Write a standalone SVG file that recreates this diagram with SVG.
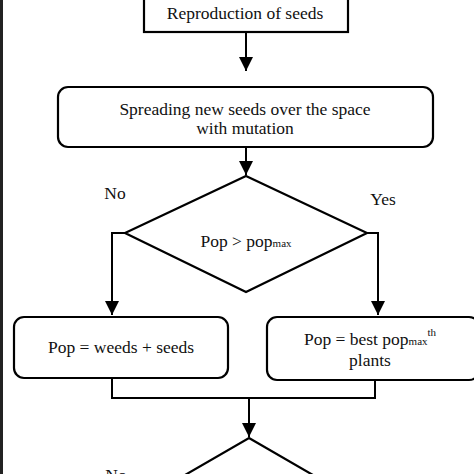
<svg xmlns="http://www.w3.org/2000/svg" width="474" height="474" viewBox="0 0 474 474">
<defs>
<marker id="ah" markerUnits="userSpaceOnUse" markerWidth="16" markerHeight="16" viewBox="0 0 16 16" refX="14" refY="8" orient="auto">
<path d="M0,1 L14,8 L0,15 Z" fill="#000"/>
</marker>
<style>
.box{fill:#fff;stroke:#000;stroke-width:2.2}
.ln{fill:none;stroke:#000;stroke-width:2}
.t{font-family:"Liberation Serif","Times New Roman",serif;font-size:17.5px;fill:#111;text-anchor:middle}
.s{font-size:11px}
</style>
</defs>
<rect width="474" height="474" fill="#fff"/>
<line x1="1.5" y1="0" x2="1.5" y2="474" stroke="#222" stroke-width="3"/>
<g id="connectors">
<path class="ln" d="M246,32 V71" marker-end="url(#ah)"/>
<path class="ln" d="M246,147 V175" marker-end="url(#ah)"/>
<path class="ln" d="M125,233 H112 V315" marker-end="url(#ah)"/>
<path class="ln" d="M367,233 H378 V315" marker-end="url(#ah)"/>
<path class="ln" d="M112,378 V398 H375 V380"/>
<path class="ln" d="M249,398 V437" marker-end="url(#ah)"/>
<text class="t" x="115" y="199">No</text>
<text class="t" x="383" y="205">Yes</text>
<text class="t" x="116" y="481">No</text>
</g>
<g id="reproduction">
<rect class="box" x="144" y="-20" width="204" height="52"/>
<text class="t" x="245" y="19">Reproduction of seeds</text>
</g>
<g id="spreading">
<rect class="box" x="58" y="87" width="375" height="60" rx="10"/>
<text class="t" x="245" y="115">Spreading new seeds over the space</text>
<text class="t" x="245" y="134">with mutation</text>
</g>
<g id="decision1">
<polygon class="box" points="246,176 367,233 246,292 125,233"/>
<text class="t" x="246" y="247">Pop &gt; pop<tspan class="s">max</tspan></text>
</g>
<g id="weeds">
<rect class="box" x="14" y="317" width="214" height="61" rx="10"/>
<text class="t" x="121" y="353">Pop = weeds + seeds</text>
</g>
<g id="best">
<rect class="box" x="267" y="317" width="212" height="63" rx="10"/>
<text class="t" x="370" y="345">Pop = best pop<tspan class="s">max</tspan><tspan class="s" dy="-9">th</tspan></text>
<text class="t" x="370" y="366">plants</text>
</g>
<g id="decision2">
<polygon class="box" points="249,438 370,508 249,578 128,508"/>
</g>
</svg>
